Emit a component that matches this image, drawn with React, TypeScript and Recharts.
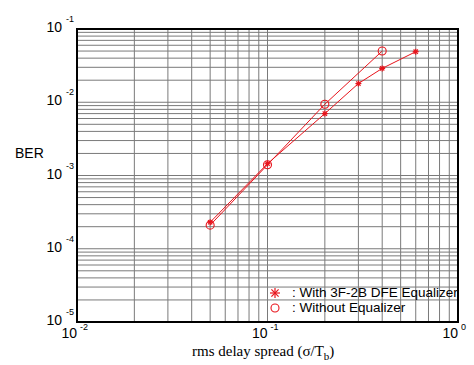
import React from "react";
import { LineChart, Line, XAxis, YAxis, CartesianGrid, ReferenceArea } from "recharts";

const dfeSpread = [0.05, 0.1, 0.2, 0.3, 0.4, 0.6];
const dfeBer = [2.3e-4, 1.45e-3, 7.0e-3, 1.8e-2, 2.9e-2, 4.9e-2];
const noEqSpread = [0.05, 0.1, 0.2, 0.4];
const noEqBer = [2.1e-4, 1.4e-3, 9.4e-3, 5.0e-2];

const xTicks = [0.01, 0.02, 0.03, 0.04, 0.05, 0.06, 0.07, 0.08, 0.09, 0.1, 0.2, 0.3, 0.4, 0.5, 0.6, 0.7, 0.8, 0.9, 1];
const yTicks = [
  1e-5, 2e-5, 3e-5, 4e-5, 5e-5, 6e-5, 7e-5, 8e-5, 9e-5,
  1e-4, 2e-4, 3e-4, 4e-4, 5e-4, 6e-4, 7e-4, 8e-4, 9e-4,
  1e-3, 2e-3, 3e-3, 4e-3, 5e-3, 6e-3, 7e-3, 8e-3, 9e-3,
  1e-2, 2e-2, 3e-2, 4e-2, 5e-2, 6e-2, 7e-2, 8e-2, 9e-2,
  1e-1,
];

const legendLabels = [": With 3F-2B DFE Equalizer", ": Without Equalizer"];
const xTitle = "rms delay spread (\u03c3/T";
const yTitle = "BER";

const RED = "#e8141c";
const dfeData = dfeSpread.map((x, i) => ({ x, y: dfeBer[i] }));
const noEqData = noEqSpread.map((x, i) => ({ x, y: noEqBer[i] }));

const decadeExp = (v: number) => {
  const e = Math.round(Math.log10(v));
  return Math.abs(v - Math.pow(10, e)) / v < 1e-6 ? e : null;
};

const sans = "'Liberation Sans', Arial, sans-serif";
const serif = "'Liberation Serif', 'Times New Roman', serif";

const YTick = (props: any) => {
  const { x, y, payload } = props;
  const e = decadeExp(payload.value);
  if (e === null) return null;
  return (
    <g>
      <text x={x - 15} y={y + 3} textAnchor="end" fontFamily={sans} fontSize={14} fill="#000">10</text>
      <text x={x - 11} y={y - 7} textAnchor="start" fontFamily={sans} fontSize={9} fill="#000">{String(e)}</text>
    </g>
  );
};

const XTick = (props: any) => {
  const { x, y, payload } = props;
  const e = decadeExp(payload.value);
  if (e === null) return null;
  return (
    <g>
      <text x={x} y={y + 16} textAnchor="end" fontFamily={sans} fontSize={14} fill="#000">10</text>
      <text x={x + 3} y={y + 8} textAnchor="start" fontFamily={sans} fontSize={9} fill="#000">{String(e)}</text>
    </g>
  );
};

const Star = ({ cx, cy, r = 5 }: any) => {
  if (cx == null || cy == null) return null;
  const d = r * 0.72;
  return (
    <g stroke={RED} strokeWidth={1.2}>
      <line x1={cx - r} y1={cy} x2={cx + r} y2={cy} />
      <line x1={cx} y1={cy - r} x2={cx} y2={cy + r} />
      <line x1={cx - d} y1={cy - d} x2={cx + d} y2={cy + d} />
      <line x1={cx - d} y1={cy + d} x2={cx + d} y2={cy - d} />
    </g>
  );
};

const Ring = ({ cx, cy }: any) => {
  if (cx == null || cy == null) return null;
  return <circle cx={cx} cy={cy} r={4} fill="none" stroke={RED} strokeWidth={1.1} />;
};

const LegendBox = () => (
  <div style={{ position: "absolute", left: 267, top: 285, fontFamily: sans, fontSize: 13.5, color: "#000", lineHeight: "15px" }}>
    {legendLabels.map((label, i) => (
      <div key={label} style={{ display: "flex", alignItems: "center", height: 15 }}>
        <svg width={16} height={14} style={{ marginRight: 9 }}>
          {i === 0 ? <Star cx={8} cy={7} r={5} /> : <Ring cx={8} cy={7} />}
        </svg>
        <span style={{ whiteSpace: "nowrap" }}>{label}</span>
      </div>
    ))}
  </div>
);

export default function App() {
  return (
    <div style={{ position: "absolute", left: 0, top: 0, width: 474, height: 365, background: "#fff" }}>
      <LineChart width={474} height={365} margin={{ top: 29, right: 16, bottom: 0, left: 0 }}>
        <CartesianGrid stroke="#7a7a7a" strokeWidth={1} horizontalValues={yTicks} verticalValues={xTicks} />
        <XAxis
          dataKey="x"
          type="number"
          scale="log"
          domain={[0.01, 1]}
          ticks={xTicks}
          interval={0}
          allowDataOverflow
          tick={<XTick />}
          tickLine={false}
          tickSize={0}
          tickMargin={0}
          axisLine={false}
          height={43}
        />
        <YAxis
          dataKey="y"
          type="number"
          scale="log"
          domain={[1e-5, 1e-1]}
          ticks={yTicks}
          interval={0}
          allowDataOverflow
          tick={<YTick />}
          tickLine={false}
          tickSize={0}
          tickMargin={0}
          axisLine={false}
          width={77}
        />
        <ReferenceArea x1={0.01} x2={1} y1={1e-5} y2={1e-1} fill="none" stroke="#000" strokeWidth={2} ifOverflow="visible" />
        <Line data={noEqData} dataKey="y" stroke={RED} strokeWidth={1} dot={<Ring />} isAnimationActive={false} />
        <Line data={dfeData} dataKey="y" stroke={RED} strokeWidth={1} dot={<Star />} isAnimationActive={false} />
      </LineChart>
      <LegendBox />
      <div style={{ position: "absolute", left: 15, top: 145, fontFamily: sans, fontSize: 14 }}>{yTitle}</div>
      <div style={{ position: "absolute", left: 192, top: 343, fontFamily: serif, fontSize: 15, lineHeight: "17px", whiteSpace: "nowrap" }}>
        {xTitle}
        <sub style={{ fontSize: 11, lineHeight: 0 }}>b</sub>)
      </div>
    </div>
  );
}
